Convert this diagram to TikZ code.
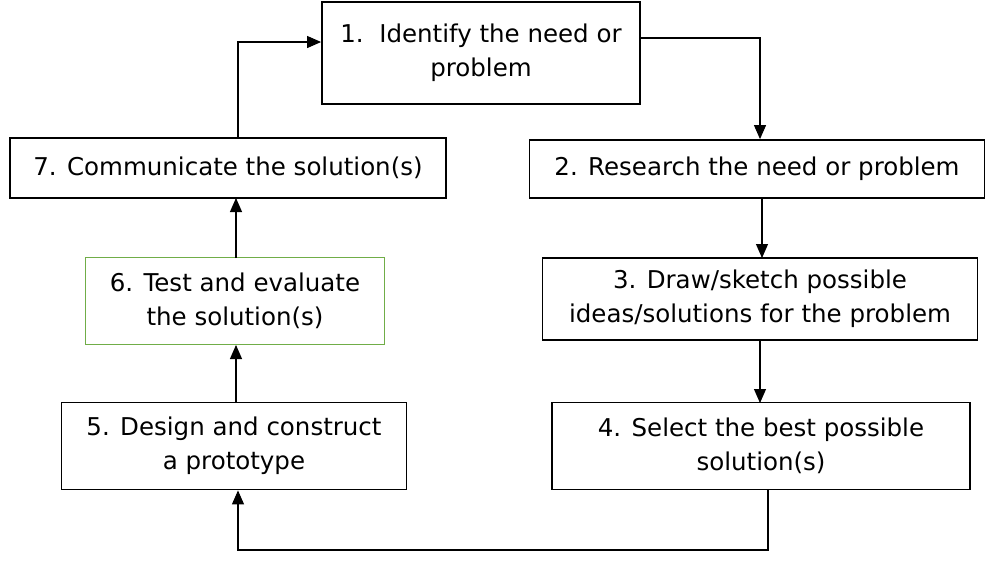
\documentclass[tikz,border=0pt]{standalone}
\usepackage{fontspec}
\setmainfont{DejaVu Sans}
\usetikzlibrary{arrows.meta}
\begin{document}
\begin{tikzpicture}[x=1pt,y=-1pt,
  box/.style={draw,line width=1.8pt,align=center,inner sep=0pt,font=\fontsize{24.5}{34}\selectfont},
  conn/.style={line width=1.1pt,-{Triangle[length=14pt,width=12pt]}}]
\useasboundingbox (0,0) rectangle (999,560);
\node[box,minimum width=318,minimum height=102] (n1) at (481,53) {1.\ \ Identify the need or\\problem};
\node[box,minimum width=455,minimum height=58] (n2) at (757,169) {2. Research the need or problem};
\node[box,minimum width=435,minimum height=82] (n3) at (760,299) {3. Draw/sketch possible\\ideas/solutions for the problem};
\node[box,minimum width=418,minimum height=87] (n4) at (761,446) {4. Select the best possible\\solution(s)};
\node[box,minimum width=345,minimum height=87] (n5) at (234,446) {5. Design and construct\\a prototype};
\node[box,draw={rgb,255:red,112;green,173;blue,71},minimum width=299,minimum height=87] (n6) at (235,301) {6. Test and evaluate\\the solution(s)};
\node[box,minimum width=436,minimum height=60] (n7) at (228,168) {7. Communicate the solution(s)};
\coordinate (a) at (238,42);
\draw[conn] (n7.north -| a) -- (a) -- (a -| n1.west);
\coordinate (b) at (760,38);
\draw[conn] (b -| n1.east) -- (b) -- (b |- n2.north);
\draw[conn] (762,198) -- (762,258);
\draw[conn] (760,340) -- (760,403);
\coordinate (c) at (768,550);
\coordinate (d) at (238,550);
\draw[conn] (c |- n4.south) -- (c) -- (d) -- (d |- n5.south);
\draw[conn] (236,403) -- (236,345);
\draw[conn] (236,258) -- (236,198);
\end{tikzpicture}
\end{document}
